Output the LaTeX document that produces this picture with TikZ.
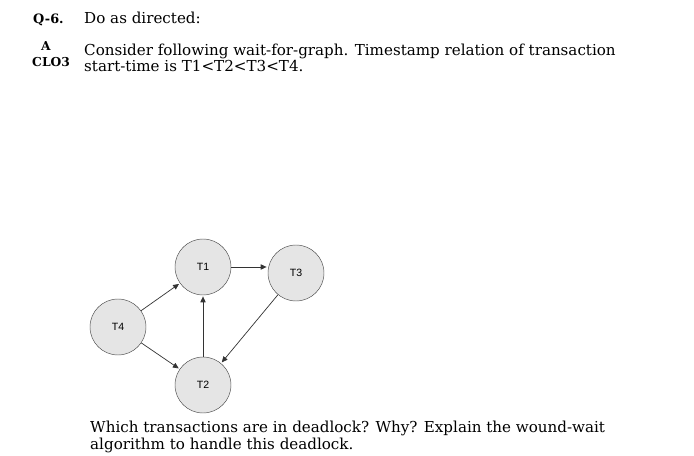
\documentclass[tikz,border=0pt]{standalone}
\usepackage{fontspec}
\setmainfont{DejaVu Serif}
\newfontfamily\nodefont{Liberation Sans}
\usetikzlibrary{arrows.meta}
\begin{document}
\begin{tikzpicture}[x=0.03cm,y=-0.03cm,
    txn/.style={circle,draw=black!70,fill=black!10,minimum size=1.68cm,inner sep=0pt,font=\nodefont\small},
    wait/.style={draw=black!80,semithick,-{Triangle[length=5pt,width=4.5pt]},shorten >=1pt},
    qtext/.style={anchor=base west,inner sep=0pt,font=\fontsize{12.9}{14}\selectfont}]
    \useasboundingbox (0,0) rectangle (694,456);

    % question header
    \node[qtext,font=\bfseries\fontsize{11}{12}\selectfont] (qno) at (33,24) {Q-6.};
    \node[qtext] (qhead) at (84,24) {Do as directed:};
    \node[qtext,font=\bfseries\fontsize{10.5}{12}\selectfont] (part) at (41,51) {A};
    \node[qtext,font=\bfseries\fontsize{10.5}{12}\selectfont] (clo) at (32,67) {CLO3};
    \node[qtext] (line1) at (84,56) {Consider following wait-for-graph. Timestamp relation of transaction};
    \node[qtext] (line2) at (84,72) {start-time is T1<T2<T3<T4.};

    % wait-for graph
    \node[txn] (t1) at (203,267) {T1};
    \node[txn] (t3) at (296,273) {T3};
    \node[txn] (t4) at (118,327) {T4};
    \node[txn] (t2) at (203,385) {T2};

    \draw[wait] (t1) -- (t1 -| t3.west);
    \draw[wait] (t4) -- (t1);
    \draw[wait] (t4) -- (t2);
    \draw[wait] (t2) -- (t1);
    \draw[wait] (t3) -- (t2);

    % question
    \node[qtext] (ask1) at (90,432) {Which transactions are in deadlock? Why? Explain the wound-wait};
    \node[qtext] (ask2) at (90,449) {algorithm to handle this deadlock.};
\end{tikzpicture}
\end{document}
